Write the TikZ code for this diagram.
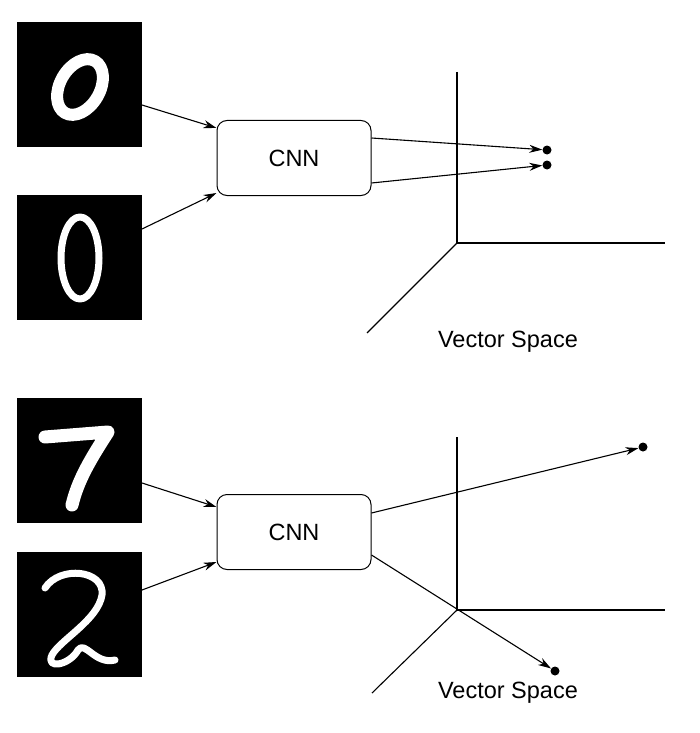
\documentclass[tikz,border=0pt]{standalone}
\usepackage{fontspec}
\setmainfont{Liberation Sans}
\usetikzlibrary{arrows.meta,calc}
\begin{document}
\begin{tikzpicture}[x=1pt,y=-1pt,
  img/.style={fill=black,draw=none},
  dig/.style={draw=white,line cap=round,line join=round},
  cnn/.style={draw,line width=1pt,rounded corners=10pt,minimum width=154pt,minimum height=75pt,font=\fontsize{23.5}{28}\selectfont},
  arr/.style={-{Stealth[length=13pt,width=8pt]},line width=1.1pt},
  ax/.style={line width=1.1pt},
  dot/.style={circle,fill=black,inner sep=0pt,minimum size=9pt},
  lab/.style={font=\fontsize{23.5}{28}\selectfont}]
\useasboundingbox (0,0) rectangle (700,733);
% images
\fill[img] (17,22) rectangle (142,147);
\fill[img] (17,195) rectangle (142,320);
\fill[img] (17,398) rectangle (142,523);
\fill[img] (17,552) rectangle (142,677);
\node[coordinate] (i1) at (142,105) {};
\node[coordinate] (i2) at (142,229) {};
\node[coordinate] (i3) at (142,483) {};
\node[coordinate] (i4) at (142,590) {};
% digits
\draw[dig,line width=12pt,rotate around={-30:(80,87)}] (80,87) ellipse [x radius=20, y radius=30];
\draw[dig,line width=7pt] (80,258) ellipse [x radius=19, y radius=41];
\draw[dig,line width=13pt] (45,437) -- (108,432) .. controls (90,460) and (78,480) .. (72,505);
\draw[dig,line width=7pt] (45,588) .. controls (60,565) and (105,570) .. (102,595) .. controls (98,620) and (60,640) .. (52,655) .. controls (45,670) and (70,665) .. (78,650) .. controls (85,640) and (95,665) .. (115,660);
% CNN boxes
\node[cnn] (c1) at (294,158) {CNN};
\node[cnn] (c2) at (294,532) {CNN};
\draw[arr] (i1) -- ($(c1.west)+(0,-30)$);
\draw[arr] (i2) -- ($(c1.west)+(0,35)$);
\draw[arr] (i3) -- ($(c2.west)+(0,-25)$);
\draw[arr] (i4) -- ($(c2.west)+(0,30)$);
% axes top
\coordinate (o1) at (457,243);
\coordinate (t1) at (457,72);
\coordinate (r1) at (665,243);
\coordinate (d1) at (367,333);
\draw[ax] (t1) -- (o1) -- (r1);
\draw[ax] (o1) -- (d1);
\node[lab] (v1) at (508,342) {Vector Space};
\node[dot] (p1) at (547,150) {};
\node[dot] (p2) at (547,165) {};
\draw[arr] ($(c1.east)+(0,-20)$) -- (p1);
\draw[arr] ($(c1.east)+(0,25)$) -- (p2);
% axes bottom
\coordinate (o2) at (457,610);
\coordinate (t2) at (457,437);
\coordinate (r2) at (665,610);
\coordinate (d2) at (372,693);
\draw[ax] (t2) -- (o2) -- (r2);
\draw[ax] (o2) -- (d2);
\node[lab] (v2) at (508,693) {Vector Space};
\node[dot] (p3) at (643,447) {};
\node[dot] (p4) at (555,671) {};
\draw[arr] ($(c2.east)+(0,-19)$) -- (p3);
\draw[arr] ($(c2.east)+(0,23)$) -- (p4);
\end{tikzpicture}
\end{document}
